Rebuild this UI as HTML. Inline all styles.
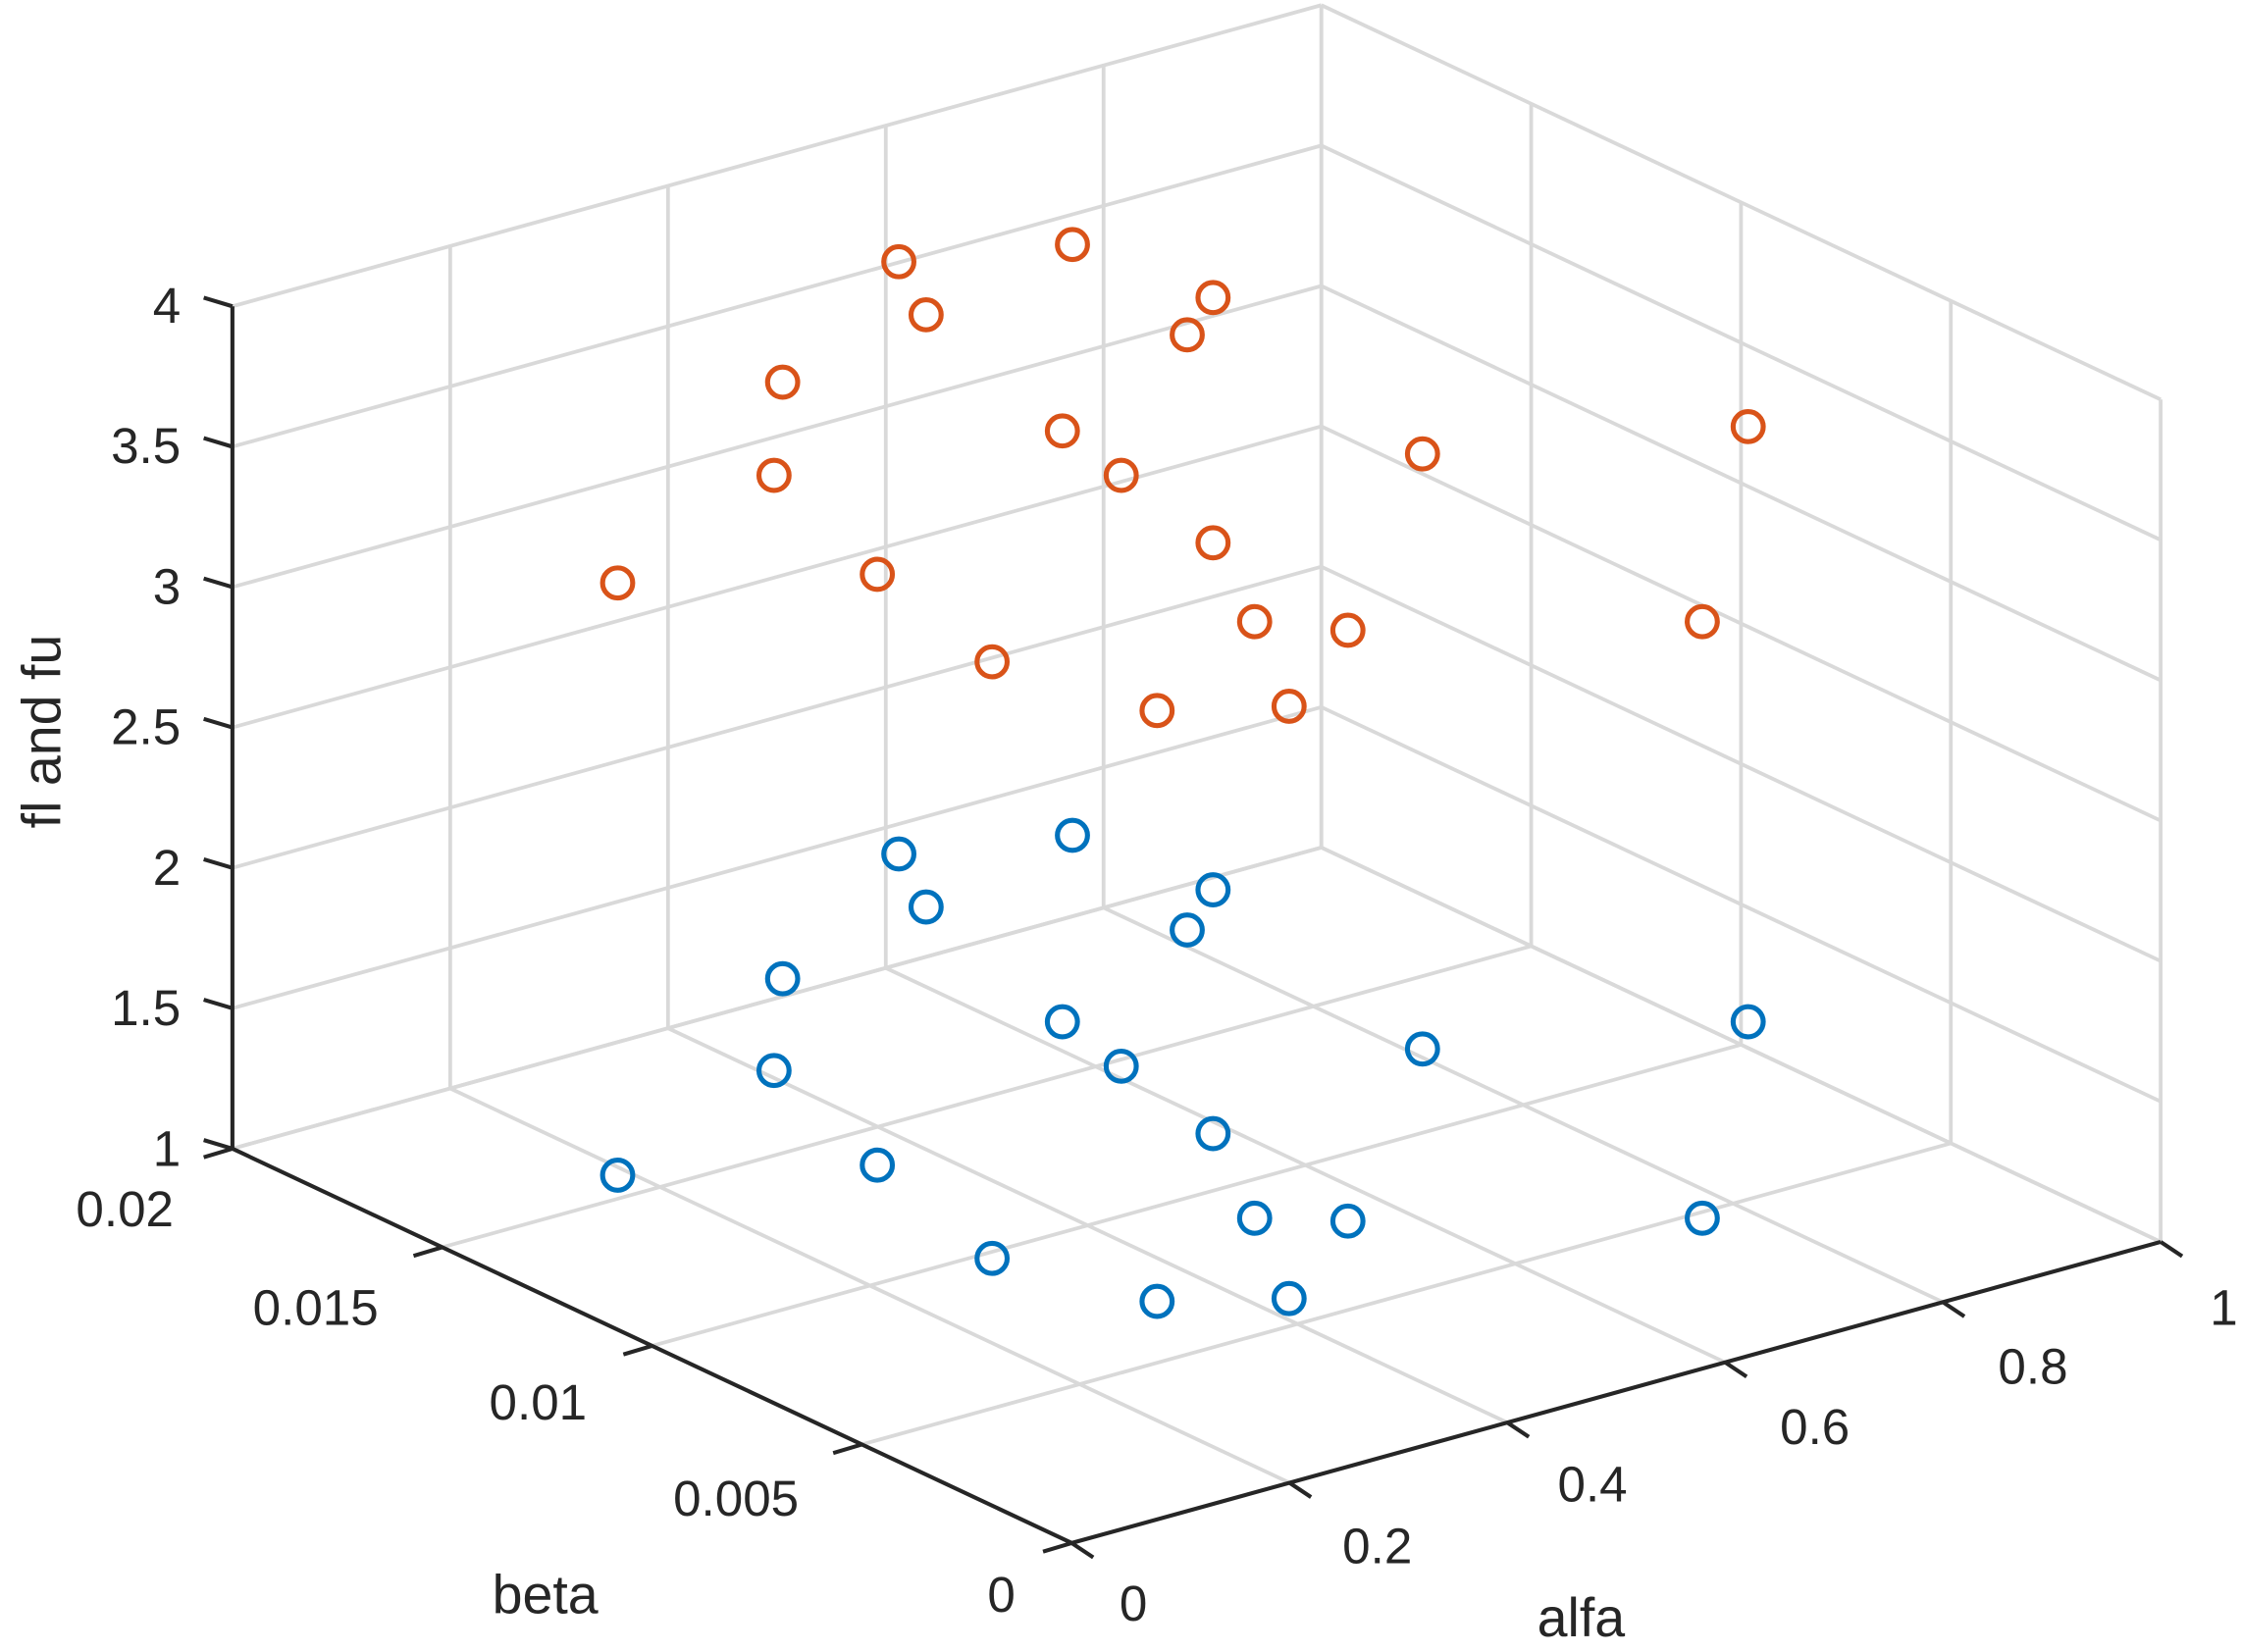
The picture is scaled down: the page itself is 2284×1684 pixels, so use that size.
<!DOCTYPE html>
<html><head><meta charset="utf-8"><style>html,body{margin:0;padding:0;background:#fff}svg{display:block}</style></head>
<body>
<svg id="s" width="2284" height="1684" viewBox="0 0 1562 1152" preserveAspectRatio="none" xmlns="http://www.w3.org/2000/svg" font-family="Liberation Sans, sans-serif" font-size="35" fill="#262626">
<g id="grid" stroke="#d9d9d9" stroke-width="2.6" fill="none"></g>
<g id="axes" stroke="#262626" stroke-width="2.8" fill="none"></g>
<g id="pts" fill="none" stroke-width="3.5"></g>
<g text-anchor="end">
<text x="126" y="225">4</text>
<text x="126" y="323">3.5</text>
<text x="126" y="421">3</text>
<text x="126" y="519">2.5</text>
<text x="126" y="617">2</text>
<text x="126" y="715">1.5</text>
<text x="126" y="813">1</text>
</g>
<g text-anchor="middle">
<text x="87" y="855">0.02</text>
<text x="220" y="924">0.015</text>
<text x="375" y="990">0.01</text>
<text x="513" y="1057">0.005</text>
<text x="698" y="1124">0</text>
<text x="790" y="1130">0</text>
<text x="960" y="1090">0.2</text>
<text x="1110" y="1047">0.4</text>
<text x="1265" y="1007">0.6</text>
<text x="1417" y="965">0.8</text>
<text x="1550" y="924">1</text>
<text x="380" y="1125" font-size="38">beta</text>
<text x="1102" y="1141" font-size="38">alfa</text>
<text transform="translate(42,510) rotate(-90)" font-size="38">fl and fu</text>
</g>
</svg>
<script>
const NS="http://www.w3.org/2000/svg";
const O=[747,1076],A=[759,-210],B=[-585,-275],Z=195.8;
function P(a,b,z){return [O[0]+A[0]*a+B[0]*b/0.02, O[1]+A[1]*a+B[1]*b/0.02-Z*(z-1)];}
function line(g,p,q){const l=document.createElementNS(NS,'line');l.setAttribute('x1',p[0]);l.setAttribute('y1',p[1]);l.setAttribute('x2',q[0]);l.setAttribute('y2',q[1]);g.appendChild(l);}
const G=document.getElementById('grid'),X=document.getElementById('axes');
for(let i=0;i<=5;i++){const a=i/5;
 line(G,P(a,0,1),P(a,0.02,1)); line(G,P(a,0.02,1),P(a,0.02,4));}
for(let i=0;i<=4;i++){const b=i*0.005;
 line(G,P(0,b,1),P(1,b,1)); line(G,P(1,b,1),P(1,b,4));}
for(let i=0;i<=6;i++){const z=1+i*0.5;
 line(G,P(0,0.02,z),P(1,0.02,z)); line(G,P(1,0.02,z),P(1,0,z));}
line(X,P(0,0.02,1),P(0,0.02,4));
line(X,P(0,0.02,1),P(0,0,1));
line(X,P(0,0,1),P(1,0,1));
for(let i=0;i<=6;i++){const p=P(0,0.02,1+i*0.5);line(X,p,[p[0]-20,p[1]-6]);}
for(let i=0;i<=4;i++){const p=P(0,i*0.005,1);line(X,p,[p[0]-20,p[1]+6]);}
for(let i=0;i<=5;i++){const p=P(i/5,0,1);line(X,p,[p[0]+15,p[1]+10]);}
const Pt=document.getElementById('pts');
const org=[[628,183],[749,171],[847,208],[647,220],[829,234],[547,267],[742,301],[541,332],[783,332],[993,317],[1220,298],[847,379],[432,407],[613,401],[876,434],[941,440],[1188,434],[693,462],[808,496],[900,493]];
const blu=[[628,596],[749,583],[847,621],[647,633],[829,649],[547,683],[742,713],[541,747],[783,744],[993,732],[1220,713],[847,791],[432,820],[613,813],[876,850],[941,852],[1188,850],[693,878],[808,908],[900,906]];
function circ(p,c){const e=document.createElementNS(NS,'circle');e.setAttribute('cx',p[0]-1.5);e.setAttribute('cy',p[1]-0.5);e.setAttribute('r',10.5);e.setAttribute('stroke',c);Pt.appendChild(e);}
org.forEach(p=>circ(p,'#D95319'));blu.forEach(p=>circ(p,'#0072BD'));
</script>
</body></html>
